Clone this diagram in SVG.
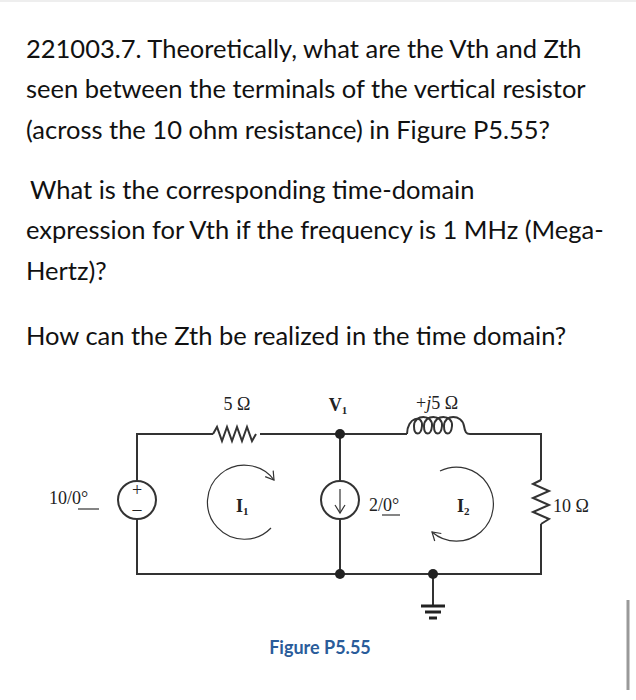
<svg xmlns="http://www.w3.org/2000/svg" width="636" height="700" viewBox="0 0 636 700">
<style>
.q{font-family:"Lato","Liberation Sans",sans-serif;font-size:25.5px;fill:#111}
.c{font-family:"Liberation Serif",serif;font-size:18px;fill:#222}
.w{fill:none;stroke:#333;stroke-width:2}
.t{fill:none;stroke:#333;stroke-width:1.2}
</style>
<defs><marker id="a" markerWidth="12" markerHeight="12" refX="9" refY="6" orient="auto" markerUnits="userSpaceOnUse"><path d="M1,1 L9,6 L1,11" fill="none" stroke="#333" stroke-width="1.2"/></marker></defs>
<rect width="636" height="700" fill="#fff"/>
<line x1="0" y1="1" x2="636" y2="1" stroke="#ddd"/>
<g id="question">
<text class="q" x="26" y="58">221003.7. Theoretically, what are the Vth and Zth</text>
<text class="q" x="26" y="98">seen between the terminals of the vertical resistor</text>
<text class="q" x="26" y="139">(across the 10 ohm resistance) in Figure P5.55?</text>
<text class="q" x="30" y="199">What is the corresponding time-domain</text>
<text class="q" x="26" y="239">expression for Vth if the frequency is 1 MHz (Mega-</text>
<text class="q" x="26" y="280">Hertz)?</text>
<text class="q" x="26" y="345">How can the Zth be realized in the time domain?</text>
</g>
<g id="connectors">
<path class="w" d="M137,481 V434 H213 M260,434 H407 M470,434 H541 V480 M541,524 V574 H137 V519"/>
<path class="w" d="M340,434 V481 M340,519 V574 M433,574 V606"/>
</g>
<g id="vsource"><circle class="w" cx="137" cy="500" r="19"/><text class="c" x="137" y="496" text-anchor="middle" font-size="15">+</text><text class="c" x="137" y="515" text-anchor="middle" font-size="15">–</text>
<text class="c" x="49" y="504">10/0°</text><path class="t" d="M78,509 H99"/></g>
<g id="r5"><path class="w" d="M213,434 l4,-7 l5,14 l5,-14 l5,14 l5,-14 l5,14 l5,-14 l5,14 l4,-7"/><text class="c" x="237" y="410" text-anchor="middle">5 Ω</text></g>
<g id="v1"><circle cx="340" cy="434" r="5" fill="#222"/><text class="c" x="338" y="411" text-anchor="middle" font-weight="bold">V<tspan font-size="11" dy="3">1</tspan></text></g>
<g id="ind"><path class="w" d="M407,434 C407,417 423,414 422,426 C421,436 414,436 414,426 C414,414 433,414 432,426 C431,436 424,436 424,426 C424,414 443,414 442,426 C441,436 434,436 434,426 C434,414 453,414 452,426 C451,436 444,436 444,426 C444,414 462,414 464,426 C465,432 466,434 470,434"/><text class="c" x="437" y="409" text-anchor="middle">+<tspan font-style="italic">j</tspan>5 Ω</text></g>
<g id="isource"><circle class="w" cx="340" cy="500" r="19"/><line class="t" x1="340" y1="489" x2="340" y2="513" marker-end="url(#a)"/>
<text class="c" x="369" y="511">2/0°</text><path class="t" d="M382,515 H400"/></g>
<g id="r10"><path class="w" d="M541,480 l-8,4 l16,7 l-16,7 l16,7 l-16,7 l16,7 l-8,5"/><text class="c" x="553" y="512">10 Ω</text></g>
<g id="mesh1"><path class="t" d="M271,528 A37,37 0 1 1 274,480" marker-end="url(#a)"/><text class="c" x="236" y="512" font-weight="bold">I<tspan font-size="11" dy="3">1</tspan></text></g>
<g id="mesh2"><path class="t" d="M440,471 A37,37 0 1 1 432,532" marker-end="url(#a)"/><text class="c" x="457" y="512" font-weight="bold">I<tspan font-size="11" dy="3">2</tspan></text></g>
<g id="gnd"><circle cx="340" cy="574" r="5" fill="#222"/><circle cx="433" cy="574" r="5" fill="#222"/>
<path d="M421,606 H445 M425,612 H441 M429,618 H437" stroke="#222" stroke-width="3"/></g>
<text x="320" y="654" text-anchor="middle" font-family="Lato,'Liberation Sans',sans-serif" font-size="18" fill="#2a5c9a" font-weight="bold">Figure P5.55</text>
<line x1="628" y1="600" x2="628" y2="690" stroke="#999" stroke-width="3"/>
</svg>
